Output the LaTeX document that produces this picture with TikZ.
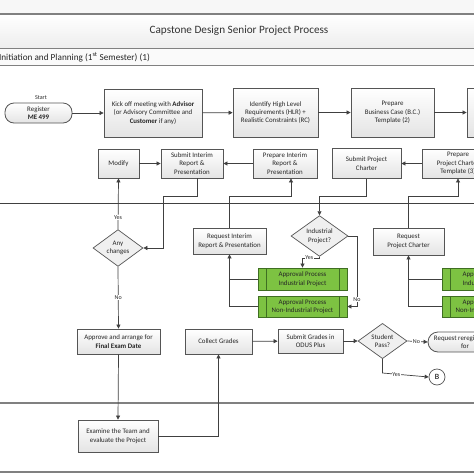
\documentclass[tikz,border=0pt]{standalone}
\usepackage{fontspec}
\setmainfont{Carlito}
\usetikzlibrary{arrows.meta,shapes.geometric,calc}
\definecolor{boxline}{HTML}{555555}
\definecolor{boxbot}{HTML}{E4E4E4}
\definecolor{connc}{HTML}{404040}
\definecolor{greenfill}{HTML}{7DC242}
\definecolor{greenline}{HTML}{3F6E22}
\definecolor{laneline}{HTML}{808080}
\newcommand\boxfnt{\fontsize{6.9}{8.4}\selectfont}
\newcommand\lblfnt{\fontsize{6}{6.8}\selectfont}
\begin{document}
\begin{tikzpicture}[x=1pt,y=-1pt,
  box/.style={draw=boxline, line width=0.8pt, top color=white, bottom color=boxbot,
    align=center, font=\boxfnt, inner sep=1pt, text=black!85},
  term/.style={box, rounded corners=9pt},
  dia/.style={diamond, draw=boxline, line width=0.7pt, fill=black!6, align=center,
    font=\boxfnt, inner sep=0pt, text=black!85},
  gbox/.style={draw=greenline, line width=0.8pt, fill=greenfill, align=center,
    font=\boxfnt, inner sep=1pt, text=black!85,
    path picture={\draw[greenline, line width=0.7pt]
      ([xshift=8pt]path picture bounding box.north west) -- ([xshift=8pt]path picture bounding box.south west)
      ([xshift=-8pt]path picture bounding box.north east) -- ([xshift=-8pt]path picture bounding box.south east);}},
  conn/.style={draw=connc, line width=0.7pt},
  arr/.style={conn, -{Triangle[length=4pt,width=4pt]}},
  lbl/.style={font=\lblfnt, fill=white, inner sep=0.6pt, text=black!85}]
\useasboundingbox (0,0) rectangle (474,474);
\clip (0,0) rectangle (474,474);
\fill[white] (0,0) rectangle (474,474);
% header bands
\fill[black!3] (0,0) rectangle (474,14);
\shade[top color=white, bottom color=black!7] (0,14) rectangle (474,48);
\fill[black!2] (0,48) rectangle (474,65);
\draw[laneline, line width=1.2pt] (0,14) -- (474,14);
\draw[laneline, line width=1pt] (0,48) -- (474,48);
\draw[laneline, line width=1pt] (0,65) -- (474,65);
\node[font=\fontsize{11.2}{13}\selectfont, text=black!80] (title) at (239,31) {Capstone Design Senior Project Process};
\node[font=\fontsize{9.2}{10}\selectfont, anchor=east, text=black!85, inner sep=0pt] (lane1) at (150,57) {Initiation and Planning (1\textsuperscript{st} Semester) (1)};
% lane lines
\draw[connc, line width=0.6pt] (0,203) -- (474,203);
\draw[laneline, line width=2.2pt] (0,403) -- (474,403);
\draw[laneline, line width=2.2pt] (0,472) -- (474,472);

% row 1
\node[font=\lblfnt, text=black!85] (startlbl) at (41,98) {Start};
\node[term, minimum width=67pt, minimum height=20pt] (start) at (38.5,113) {Register\\\textbf{ME 499}};
\node[box, minimum width=98pt, minimum height=48pt] (kick) at (153,113) {Kick off meeting with \textbf{Advisor}\\(or Advisory Committee and\\\textbf{Customer} if any)};
\node[box, minimum width=85pt, minimum height=49pt] (hlr) at (275.5,112.5) {Identify High Level\\Requirements (HLR) +\\Realistic Constraints (RC)};
\node[box, minimum width=83pt, minimum height=49pt] (bc) at (392.5,112.5) {Prepare\\Business Case (B.C.)\\Template (2)};
\node[box, minimum width=86pt, minimum height=49pt] (next) at (510,112.5) {};
% row 2
\node[box, minimum width=41pt, minimum height=29pt] (modify) at (118.5,163.5) {Modify};
\node[box, minimum width=62pt, minimum height=29pt] (subInt) at (192,163.5) {Submit Interim\\Report \&\\Presentation};
\node[box, minimum width=64pt, minimum height=29pt] (prepInt) at (285,163.5) {Prepare Interim\\Report \&\\Presentation};
\node[box, minimum width=69pt, minimum height=30pt] (subPC) at (366.5,163.5) {Submit Project\\Charter};
\node[box, minimum width=72pt, minimum height=29pt] (prepPC) at (458,163.5) {Prepare\\Project Charter\\Template (3)};
% lane 2
\node[dia, minimum width=50pt, minimum height=30pt] (anyCh) at (118,248) {Any\\changes};
\node[box, minimum width=73pt, minimum height=26pt] (reqInt) at (229.5,241) {Request Interim\\Report \& Presentation};
\node[dia, minimum width=57pt, minimum height=32pt] (indP) at (319.5,236) {Industrial\\Project?};
\node[gbox, minimum width=89pt, minimum height=22pt] (gInd) at (302.5,279) {Approval Process\\Industrial Project};
\node[gbox, minimum width=89pt, minimum height=21pt] (gNon) at (302.5,306.5) {Approval Process\\Non-Industrial Project};
\node[box, minimum width=71pt, minimum height=27pt] (reqPC) at (408.5,241.5) {Request\\Project Charter};
\node[gbox, minimum width=89pt, minimum height=22pt] (gInd2) at (486.5,279) {Approval Process\\Industrial Project};
\node[gbox, minimum width=89pt, minimum height=21pt] (gNon2) at (486.5,306.5) {Approval Process\\Non-Industrial Project};
\node[box, minimum width=83pt, minimum height=25pt] (approve) at (118.5,341.5) {Approve and arrange for\\\textbf{Final Exam Date}};
\node[box, minimum width=67pt, minimum height=25pt] (collect) at (218.5,341.5) {Collect Grades};
\node[box, minimum width=65pt, minimum height=24pt] (subGr) at (310.5,341) {Submit Grades in\\ODUS Plus};
\node[dia, minimum width=49pt, minimum height=32pt] (pass) at (382.5,341) {Student\\Pass?};
\node[term, minimum width=74pt, minimum height=20pt, rounded corners=10pt] (rereg) at (465,342) {Request reregistration\\for};
\node[circle, draw=boxline, line width=0.7pt, fill=white, minimum size=16pt, inner sep=0pt, font=\fontsize{8}{9}\selectfont] (B) at (437,377) {B};
% lane 3
\node[box, minimum width=80pt, minimum height=32pt] (examine) at (118,436) {Examine the Team and\\evaluate the Project};

% connectors
\draw[arr] (start) -- (kick);
\draw[arr] (kick) -- (hlr);
\draw[arr] (hlr) -- (bc);
\draw[arr] (bc) -- (next);
\draw[arr] (modify) -- (subInt);
\draw[arr] (prepInt) -- (subInt);
\draw[arr] (prepPC) -- (subPC);
\coordinate (j1) at (163,196);
\draw[arr] ([xshift=5pt]subInt.south) |- (j1) |- (anyCh.east);
\draw[arr] (anyCh.north) -- node[lbl, pos=0.23] {Yes} (modify.south);
\draw[arr] (anyCh.south) -- node[lbl, pos=0.5] {No} (approve.north);
\draw[arr] (approve.south) -- (examine.north);
\draw[arr] (examine.east) -| (collect.south);
\draw[arr] (collect) -- (subGr);
\draw[arr] (subGr) -- (pass.west);
\draw[arr] (pass.east) -- node[lbl, pos=0.45] {No} (rereg.west);
\coordinate (j2) at (382.5,373);
\draw[arr] (pass.south) -- (j2) -- node[lbl, pos=0.3] {Yes} (B.west);
\coordinate (j3) at (229.5,196);
\draw[arr] (reqInt.north) -- (j3) -| ([xshift=6pt]prepInt.south);
\coordinate (j4) at (319.5,196);
\draw[arr] (subPC.south) |- (j4) -- (indP.north);
\coordinate (j5) at (319.5,258);
\draw[arr] (indP.south) -- (j5) -| node[lbl, pos=0.3] {Yes} (gInd.north);
\coordinate (j6) at (357,236);
\draw[arr] (indP.east) -- (j6) |- node[lbl, pos=0.45] {No} (gNon.east);
\coordinate (j7) at (229.5,279);
\draw[conn] (gInd.west) -- (j7);
\draw[arr] (gNon.west) -| (reqInt.south);
\coordinate (j8) at (408.5,196);
\draw[arr] (reqPC.north) -- (j8) -| (prepPC.south);
\coordinate (j9) at (408.5,279);
\draw[conn] (gInd2.west) -- (j9);
\draw[arr] (gNon2.west) -| (reqPC.south);
\end{tikzpicture}
\end{document}
